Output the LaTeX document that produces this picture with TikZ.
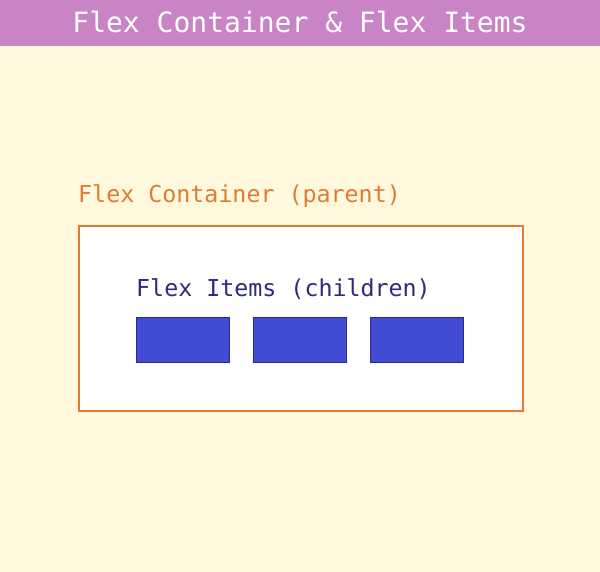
\documentclass[tikz,border=0pt]{standalone}
\usepackage{fontspec}
\newfontfamily\monof{DejaVu Sans Mono}
\definecolor{bgc}{RGB}{255,248,220}
\definecolor{barc}{RGB}{200,132,196}
\definecolor{orc}{RGB}{222,124,52}
\definecolor{navy}{RGB}{46,42,128}
\definecolor{itemfill}{RGB}{65,75,212}
\definecolor{itemline}{RGB}{42,42,140}
\tikzset{
  itembox/.style={draw=itemline, line width=1pt, fill=itemfill, minimum width=93pt, minimum height=45pt, inner sep=0pt, anchor=north west},
  lbl/.style={inner sep=0pt, anchor=base west, font=\monof\fontsize{23.3}{26}\selectfont}
}
\begin{document}
\begin{tikzpicture}[x=1pt,y=-1pt]
\useasboundingbox (0,0) rectangle (600,572);
\fill[bgc] (0,0) rectangle (600,572);
\fill[barc] (0,0) rectangle (600,46);
\node[inner sep=0pt, text=white, font=\monof\fontsize{28}{30}\selectfont] (title) at (300,22) {Flex Container \& Flex Items};
\node[lbl, text=orc] (clabel) at (78,203) {Flex Container (parent)};
\node[draw=orc, line width=2pt, fill=white, minimum width=444pt, minimum height=185pt, inner sep=0pt, anchor=north west] (container) at (78,225) {};
\node[lbl, text=navy] (ilabel) at (136,296) {Flex Items (children)};
\node[itembox] (i1) at (136,317) {};
\node[itembox] (i2) at (253,317) {};
\node[itembox] (i3) at (370,317) {};
\end{tikzpicture}
\end{document}
